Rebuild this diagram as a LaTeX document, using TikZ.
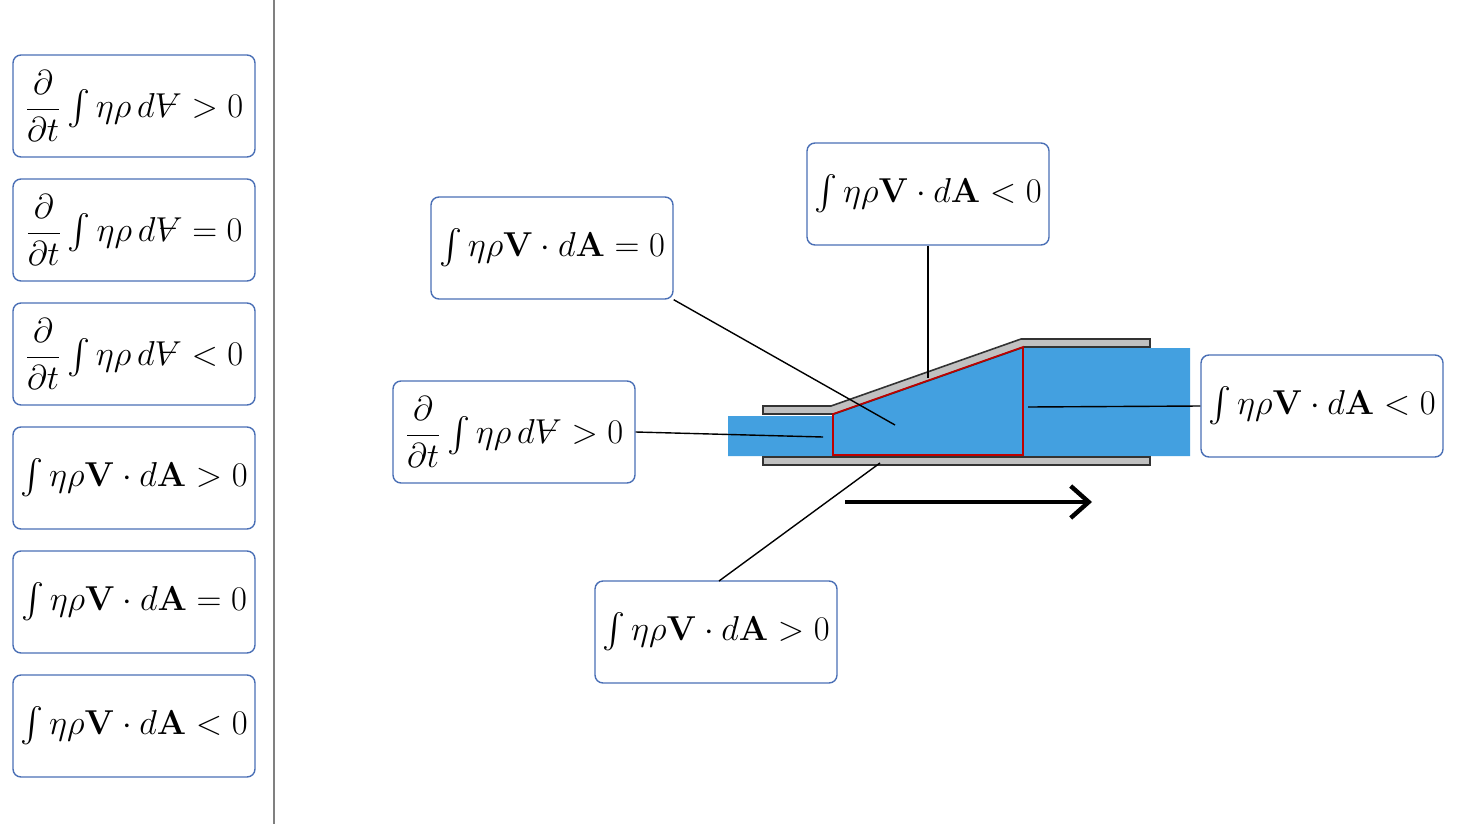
\documentclass[tikz,border=0pt]{standalone}
\usepackage{amsmath,graphicx}
\usetikzlibrary{arrows.meta}
\newcommand\dvol{\mathord{\ooalign{$V$\cr\hss\raisebox{0.3ex}{\scalebox{0.75}[1]{$-$}}\hss\cr}}}
\newcommand\fl[1]{$\textstyle\int\eta\rho\mathbf{V}\cdot d\mathbf{A}#1$}
\newcommand\vt[1]{$\dfrac{\partial}{\partial t}\textstyle\int\eta\rho\, d\dvol#1$}
\definecolor{bx}{HTML}{4A6FB5}
\definecolor{fluid}{HTML}{43A0E0}
\definecolor{wall}{HTML}{C0C0C0}
\begin{document}
\begin{tikzpicture}[x=0.5pt,y=-0.5pt,
  lab/.style={draw=bx,line width=0.7pt,rounded corners=4pt,minimum width=121pt,minimum height=51pt,inner sep=0pt,font=\fontsize{18}{21}\selectfont},
  ptr/.style={line width=0.7pt},
  pw/.style={fill=wall,draw=black!80,line width=0.8pt}]
\useasboundingbox (0,0) rectangle (1470,824);
\draw[gray,line width=0.7pt] (274,0) -- (274,824);
% left column
\node[lab] (l1) at (134,106) {\vt{>0}};
\node[lab] (l2) at (134,230) {\vt{=0}};
\node[lab] (l3) at (134,354) {\vt{<0}};
\node[lab] (l4) at (134,478) {\fl{>0}};
\node[lab] (l5) at (134,602) {\fl{=0}};
\node[lab] (l6) at (134,726) {\fl{<0}};
% fluid
\fill[fluid] (728,416) -- (833,416) -- (833,414) -- (1023,347) -- (1023,348) -- (1190,348) -- (1190,456) -- (728,456) -- cycle;
% walls
\draw[pw] (763,406) -- (831,406) -- (1021,339) -- (1150,339) -- (1150,347) -- (1024,347) -- (834,414) -- (763,414) -- cycle;
\draw[pw] (763,457) rectangle (1150,465);
% control volume
\draw[red!75!black,line width=0.8pt] (833,414) -- (1023,347) -- (1023,455) -- (833,455) -- cycle;
% flow arrow
\coordinate (fa) at (845,502); \coordinate (fb) at (1092,502);
\draw[line width=2.2pt,-{Straight Barb[length=9pt,width=16pt,line width=2.2pt]}] (fa) -- (fb);
% labels
\node[lab] (a) at (552,248) {\fl{=0}};
\node[lab] (b) at (928,194) {\fl{<0}};
\node[lab] (c) at (514,432) {\vt{>0}};
\node[lab] (d) at (1322,406) {\fl{<0}};
\node[lab] (e) at (716,632) {\fl{>0}};
\coordinate (pa) at (895,425); \coordinate (pb) at (928,378);
\coordinate (pc) at (823,437); \coordinate (pd) at (1028,407);
\coordinate (pe) at (880,463);
\draw[ptr] (a.south east) -- (pa);
\draw[ptr] (b.south) -- (pb);
\draw[ptr] (c.east) -- (pc);
\draw[ptr] (d.west) -- (pd);
\draw[ptr] (719,581) -- (pe);
\end{tikzpicture}
\end{document}
